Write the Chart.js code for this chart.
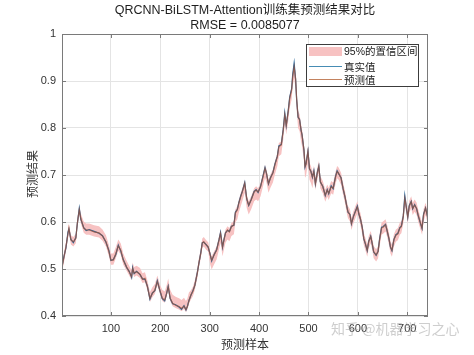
<!DOCTYPE html>
<html><head><meta charset="utf-8">
<script src="https://cdn.jsdelivr.net/npm/chart.js@4.4.0/dist/chart.umd.min.js"></script>
<style>html,body{margin:0;padding:0;background:#fff;}#wrap{width:474px;height:355px;position:relative;}</style>
</head><body><div id="wrap"><canvas id="c" width="474" height="355"></canvas></div>
<script>
const titleLines = ['QRCNN-BiLSTM-Attention训练集预测结果对比', 'RMSE = 0.0085077'];
const xLabel = '预测样本';
const yLabel = '预测结果';
const legendLabels = ['95%的置信区间', '真实值', '预测值'];
const watermark = '知乎 @机器学习之心';
const xTicks = [100, 200, 300, 400, 500, 600, 700];
const yTicks = [0.4, 0.5, 0.6, 0.7, 0.8, 0.9, 1];
const xRange = [1, 742];

const samples = [
  1,5,9,13,15,19,24,29,32,36,
  39,45,50,56,66,76,83,90,96,100,
  105,110,115,120,125,132,137,142,144,147,
  152,159,164,169,174,179,184,189,194,200,
  204,209,213,216,220,225,231,238,243,248,
  252,255,258,262,266,270,275,278,282,285,
  288,293,297,301,304,309,314,319,322,326,
  329,332,336,340,344,349,352,356,359,363,
  366,371,375,379,384,390,394,398,403,408,
  412,415,419,423,428,432,437,440,445,449,
  452,455,459,462,466,468,471,474,476,479,
  482,485,487,491,493,495,499,502,505,508,
  511,514,518,521,524,529,534,538,541,546,
  550,555,558,561,566,570,574,577,580,584,
  587,591,595,599,602,605,609,612,615,619,
  622,626,629,632,637,641,644,648,651,656,
  659,663,666,669,673,677,681,685,688,692,
  695,698,701,704,708,711,715,719,722,727,
  730,733,737,742
];
const predicted = [
  .503,.525,.547,.574,.587,.562,.558,.565,.597,.626,
  .608,.587,.583,.583,.579,.577,.570,.558,.537,.519,
  .519,.533,.549,.540,.519,.504,.494,.484,.501,.491,
  .494,.489,.478,.480,.462,.438,.448,.455,.473,.452,
  .438,.434,.448,.462,.438,.427,.423,.420,.416,.421,
  .414,.420,.432,.445,.452,.466,.491,.512,.533,.555,
  .558,.551,.547,.530,.519,.530,.540,.562,.576,.547,
  .562,.576,.583,.579,.590,.594,.619,.626,.640,.654,
  .664,.682,.650,.636,.647,.664,.668,.664,.675,.696,
  .714,.704,.682,.693,.704,.721,.739,.760,.764,.796,
  .828,.806,.835,.863,.881,.909,.930,.905,.863,.824,
  .817,.796,.785,.753,.718,.722,.750,.714,.707,.696,
  .707,.682,.704,.718,.686,.675,.657,.668,.661,.675,
  .672,.696,.707,.704,.693,.672,.654,.636,.622,.615,
  .597,.611,.622,.632,.618,.608,.587,.565,.555,.540,
  .558,.569,.555,.537,.530,.537,.562,.587,.589,.594,
  .583,.565,.547,.540,.562,.572,.575,.587,.590,.611,
  .650,.633,.611,.633,.643,.629,.636,.629,.615,.597,
  .587,.615,.629,.608
];
const actual = [
  .505,.527,.545,.578,.585,.563,.556,.567,.596,.629,
  .606,.588,.582,.584,.580,.576,.571,.557,.539,.518,
  .520,.531,.551,.538,.520,.503,.495,.482,.503,.490,
  .495,.488,.479,.478,.463,.436,.449,.454,.475,.451,
  .437,.432,.449,.463,.437,.426,.424,.419,.414,.422,
  .413,.421,.433,.444,.454,.465,.493,.511,.535,.556,
  .557,.552,.546,.531,.517,.531,.541,.563,.578,.546,
  .563,.577,.582,.580,.591,.593,.621,.627,.641,.656,
  .665,.684,.649,.635,.648,.665,.669,.663,.676,.698,
  .716,.703,.681,.694,.705,.723,.740,.762,.765,.798,
  .832,.805,.837,.866,.884,.913,.938,.903,.861,.823,
  .818,.795,.786,.751,.717,.724,.751,.713,.708,.695,
  .709,.681,.706,.719,.685,.676,.656,.669,.660,.677,
  .671,.698,.709,.703,.694,.671,.653,.637,.621,.616,
  .596,.612,.623,.634,.617,.607,.588,.564,.554,.539,
  .559,.570,.554,.536,.529,.538,.564,.589,.590,.595,
  .582,.564,.546,.539,.563,.573,.576,.588,.591,.613,
  .656,.632,.610,.635,.644,.628,.637,.628,.614,.596,
  .586,.617,.630,.607
];
// [from sample, to sample, band above prediction, band below prediction]
const bandRegions = [
  [1, 39, 0.010, 0.010],
  [40, 128, 0.014, 0.010],
  [129, 203, 0.013, 0.008],
  [204, 260, 0.018, 0.006],
  [261, 300, 0.010, 0.010],
  [301, 470, 0.008, 0.020],
  [471, 510, 0.012, 0.024],
  [511, 742, 0.012, 0.014]
];

function bandAt(s) {
  for (const r of bandRegions) if (s >= r[0] && s <= r[1]) return r;
  return bandRegions[bandRegions.length - 1];
}
const upperPts = samples.map((s, i) => ({x: s, y: predicted[i] + bandAt(s)[2]}));
const lowerPts = samples.map((s, i) => ({x: s, y: predicted[i] - bandAt(s)[3]}));
const predPts = samples.map((s, i) => ({x: s, y: predicted[i]}));
const actPts = samples.map((s, i) => ({x: s, y: actual[i]}));

const BAND = '#f7c2c2';
const BLUE = 'rgb(40,105,155)';
const ORANGE = 'rgba(160,80,55,0.72)';
const AXIS = '#7a7a7a';
const LATIN = '"Liberation Sans", Arial, "Noto Sans CJK SC", sans-serif';
const CJK = '"Noto Sans CJK SC", "Liberation Sans", sans-serif';

const deco = {
  id: 'deco',
  afterDraw(chart) {
    const ctx = chart.ctx, a = chart.chartArea;
    const xs = chart.scales.x, ys = chart.scales.y;
    ctx.save();
    ctx.strokeStyle = AXIS; ctx.lineWidth = 1;
    ctx.strokeRect(Math.round(a.left) + 0.5, Math.round(a.top) + 0.5, Math.round(a.right - a.left) - 1, Math.round(a.bottom - a.top) - 1);
    ctx.beginPath();
    xTicks.forEach(v => {
      const px = Math.round(xs.getPixelForValue(v)) + 0.5;
      ctx.moveTo(px, a.bottom); ctx.lineTo(px, a.bottom - 4);
      ctx.moveTo(px, a.top); ctx.lineTo(px, a.top + 4);
    });
    yTicks.forEach(v => {
      const py = Math.round(ys.getPixelForValue(v)) + 0.5;
      ctx.moveTo(a.left, py); ctx.lineTo(a.left + 4, py);
      ctx.moveTo(a.right, py); ctx.lineTo(a.right - 4, py);
    });
    ctx.stroke();
    ctx.fillStyle = '#1e1e1e';
    ctx.textAlign = 'center'; ctx.textBaseline = 'middle';
    ctx.font = '12.5px ' + LATIN;
    ctx.fillText(titleLines[0], 245, 11);
    ctx.fillText(titleLines[1], 245, 26);
    ctx.fillStyle = '#333';
    ctx.font = '12px ' + CJK;
    ctx.fillText(xLabel, 245, 344);
    ctx.save();
    ctx.translate(32, 174); ctx.rotate(-Math.PI / 2);
    ctx.fillText(yLabel, 0, 0);
    ctx.restore();
    const lx = 306, ly = 44, lw = 112, lh = 42;
    ctx.fillStyle = '#fff';
    ctx.fillRect(lx, ly, lw, lh);
    ctx.strokeStyle = '#3c3c3c';
    ctx.strokeRect(lx + 0.5, ly + 0.5, lw, lh);
    ctx.fillStyle = BAND;
    ctx.fillRect(309, 47, 33, 9);
    ctx.lineWidth = 1;
    ctx.strokeStyle = 'rgb(70,140,180)';
    ctx.beginPath(); ctx.moveTo(309, 66.5); ctx.lineTo(342, 66.5); ctx.stroke();
    ctx.strokeStyle = 'rgb(195,130,95)';
    ctx.beginPath(); ctx.moveTo(309, 79.5); ctx.lineTo(342, 79.5); ctx.stroke();
    ctx.fillStyle = '#222';
    ctx.textAlign = 'left';
    ctx.font = '10.5px ' + LATIN;
    ctx.fillText(legendLabels[0], 344, 52);
    ctx.font = '10.5px ' + CJK;
    ctx.fillText(legendLabels[1], 344, 67);
    ctx.fillText(legendLabels[2], 344, 80);
    ctx.fillStyle = 'rgba(165,165,165,0.55)';
    ctx.font = '14px ' + CJK;
    ctx.fillText(watermark, 331, 329);
    ctx.restore();
  }
};

new Chart(document.getElementById('c'), {
  type: 'line',
  data: {
    datasets: [
      {label: legendLabels[2], data: predPts, borderColor: ORANGE, borderWidth: 1.2, pointRadius: 0, fill: false, order: 1},
      {label: legendLabels[1], data: actPts, borderColor: BLUE, borderWidth: 1.2, pointRadius: 0, fill: false, order: 2},
      {label: legendLabels[0], data: upperPts, borderColor: 'rgba(0,0,0,0)', borderWidth: 0, pointRadius: 0, backgroundColor: BAND, fill: 3, order: 3},
      {label: 'lower', data: lowerPts, borderColor: 'rgba(0,0,0,0)', borderWidth: 0, pointRadius: 0, fill: false, order: 4}
    ]
  },
  options: {
    responsive: false, animation: false, devicePixelRatio: 1,
    layout: {padding: {top: 34, right: 46, bottom: 0, left: 0}},
    plugins: {legend: {display: false}, title: {display: false}, tooltip: {enabled: false}},
    elements: {line: {tension: 0}},
    scales: {
      x: {
        type: 'linear', min: xRange[0], max: xRange[1],
        afterFit(s) { s.height = 39; },
        afterBuildTicks(s) { s.ticks = xTicks.map(v => ({value: v})); },
        grid: {color: '#e4e4e4', lineWidth: 1, drawTicks: false},
        border: {display: false},
        ticks: {padding: 6, color: '#333', font: {family: LATIN, size: 11}, maxRotation: 0, autoSkip: false}
      },
      y: {
        type: 'linear', min: 0.4, max: 1,
        afterFit(s) { s.width = 62; },
        afterBuildTicks(s) { s.ticks = yTicks.map(v => ({value: v})); },
        grid: {color: '#e4e4e4', lineWidth: 1, drawTicks: false},
        border: {display: false},
        ticks: {padding: 6, color: '#333', font: {family: LATIN, size: 11}, callback: v => String(v)}
      }
    }
  },
  plugins: [deco]
});
</script>
</body></html>
